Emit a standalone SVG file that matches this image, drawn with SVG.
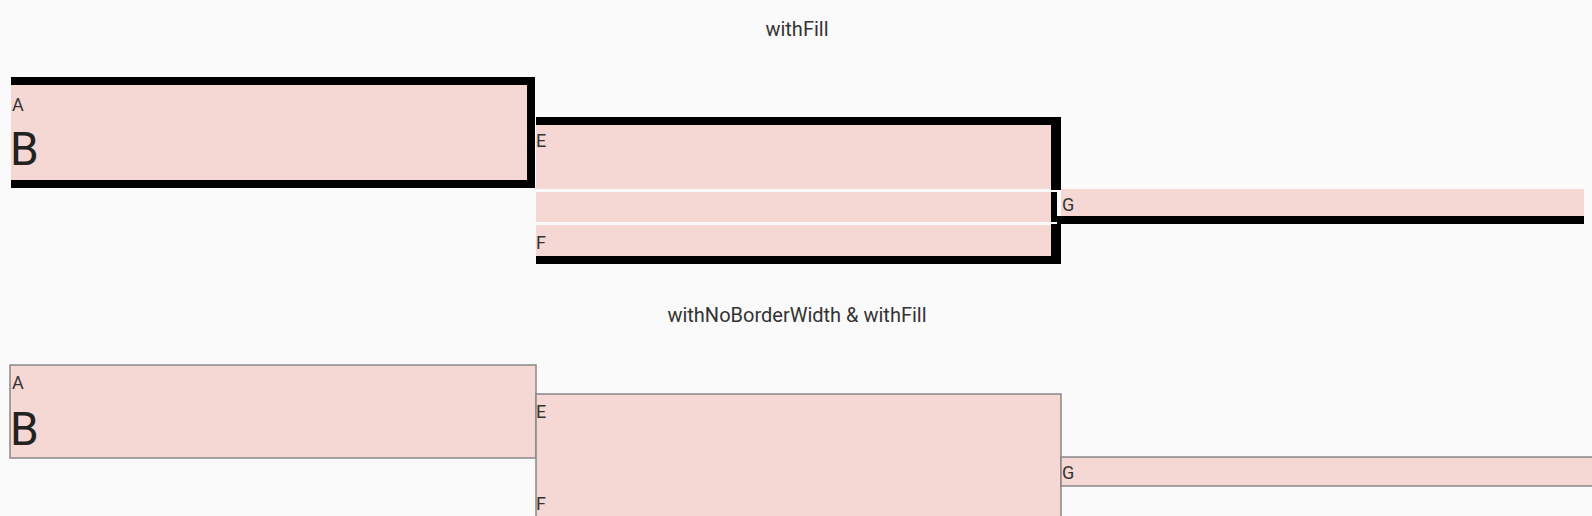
<svg xmlns="http://www.w3.org/2000/svg" width="1592" height="516" viewBox="0 0 1592 516">
<style>
text{font-family:Roboto,"Liberation Sans",sans-serif;fill:#333}
.t{font-size:20px;text-anchor:middle}
.s{font-size:18px}
.b{font-size:46px;fill:#222}
.f{fill:#f5d7d4}
.k{fill:#000}
.th{fill:#f5d7d4;stroke:#888;stroke-width:1.5}
</style>
<rect width="1592" height="516" fill="#fafafa"/>
<text class="t" x="797" y="36">withFill</text>
<g id="A1">
<rect class="f" x="11" y="85" width="516" height="95"/>
<rect class="k" x="11" y="77" width="524" height="8"/>
<rect class="k" x="11" y="180" width="524" height="8"/>
<rect class="k" x="527" y="77" width="8" height="111"/>
<text class="s" x="12" y="111">A</text>
<text class="b" x="10" y="165">B</text>
</g>
<g id="EF1">
<rect class="f" x="536" y="125" width="515" height="64"/>
<rect class="f" x="536" y="192" width="515" height="30"/>
<rect class="f" x="536" y="225" width="515" height="31"/>
<rect class="k" x="536" y="117" width="525" height="8"/>
<rect class="k" x="536" y="256" width="525" height="8"/>
<rect class="k" x="1051" y="117" width="10" height="73"/>
<rect class="k" x="1051" y="192" width="6" height="30"/>
<rect class="k" x="1051" y="224" width="10" height="40"/>
<text class="s" x="536" y="147">E</text>
<text class="s" x="536" y="249">F</text>
</g>
<g id="G1">
<rect class="f" x="1061" y="189" width="523" height="27"/>
<rect class="k" x="1057" y="216" width="527" height="8"/>
<text class="s" x="1062" y="211">G</text>
</g>
<text class="t" x="797" y="322">withNoBorderWidth &amp; withFill</text>
<g id="A2">
<rect class="th" x="10" y="365" width="526" height="93"/>
<text class="s" x="12" y="389">A</text>
<text class="b" x="10" y="445">B</text>
</g>
<g id="EF2">
<rect class="th" x="536" y="394" width="525" height="130"/>
<text class="s" x="536" y="418">E</text>
<text class="s" x="536" y="510">F</text>
</g>
<g id="G2">
<rect class="th" x="1061" y="457" width="540" height="29"/>
<text class="s" x="1062" y="479">G</text>
</g>
<g id="connectors"/>
</svg>
